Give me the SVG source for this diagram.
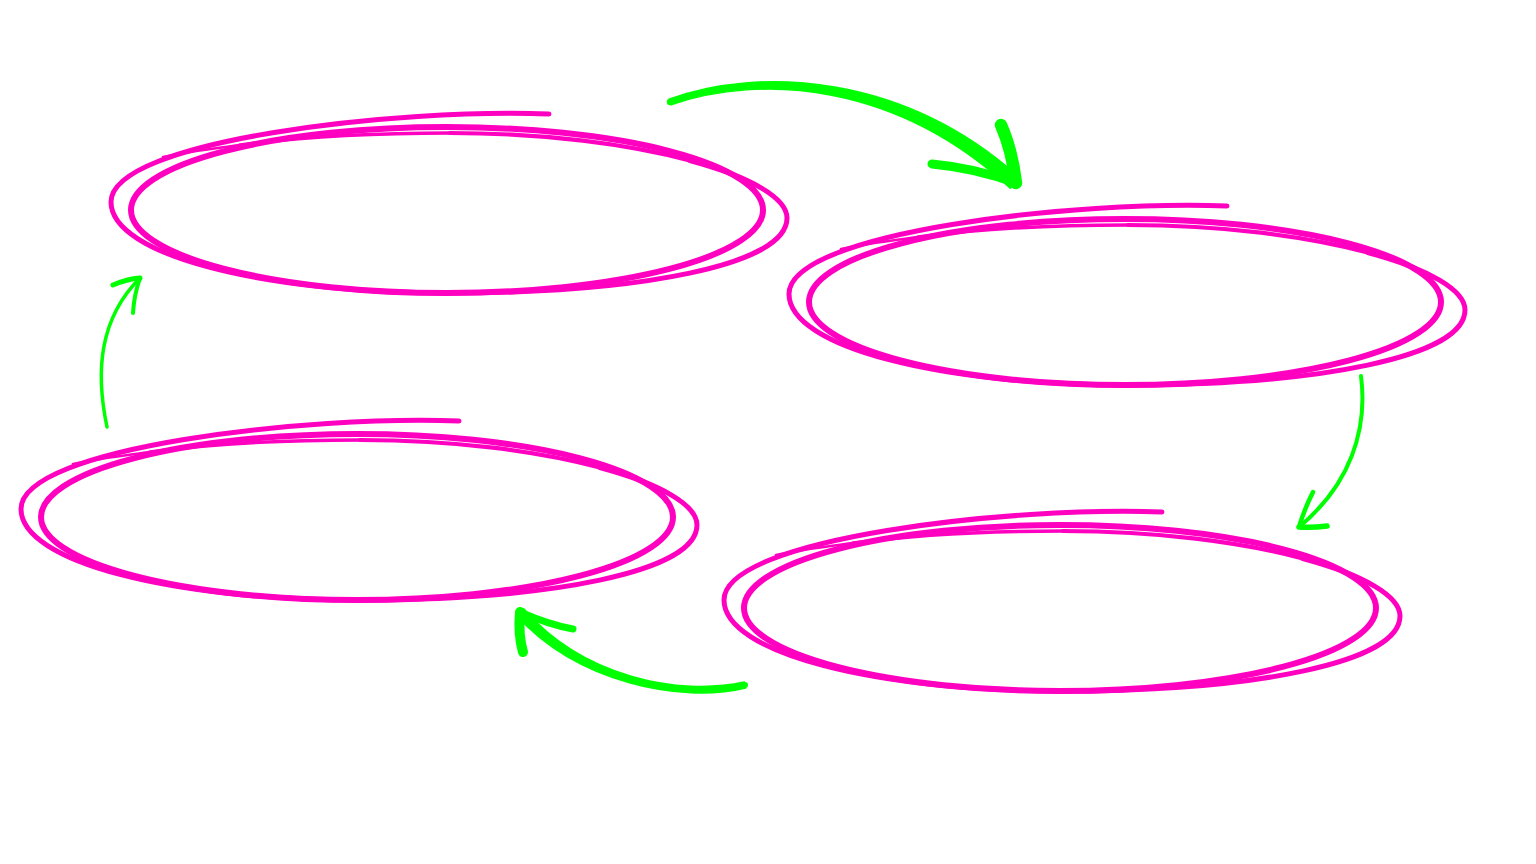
<svg xmlns="http://www.w3.org/2000/svg" xmlns:xlink="http://www.w3.org/1999/xlink" width="1536" height="864" viewBox="0 0 1536 864">
<style>
.loop{fill:none;stroke:#ff00c0;stroke-linecap:round;stroke-linejoin:round}
.arr{fill:none;stroke:#00ff00;stroke-linecap:round;stroke-linejoin:round}
.shaft{fill:#00ff00;stroke:#00ff00;stroke-width:1.5;stroke-linejoin:round}
</style>
<defs>
<g id="sketchEllipse">
<ellipse class="loop" cx="447" cy="210" rx="316" ry="83" stroke-width="6"/>
<path class="loop" stroke-width="5" d="M549,114 C400,108 111,140 111,202 C111,255 262,293 449,293 C640,293 787,265 787,218 C787,198 750.25,176.75 689.75,160.5"/>
<path class="loop" stroke-width="4.2" d="M689.75,160.5 C629.25,144.25 545,133 450,133"/>
<path class="loop" stroke-width="3.4" d="M450,133 C370,133 300,137 240,145"/>
<path class="loop" stroke-width="2.6" d="M240,145 C210,149 185,152 163,157"/>
</g>
</defs>
<rect width="1536" height="864" fill="#ffffff"/>
<g id="node1"><use xlink:href="#sketchEllipse"/></g>
<g id="node2"><use xlink:href="#sketchEllipse" transform="translate(678,92)"/></g>
<g id="node3"><use xlink:href="#sketchEllipse" transform="translate(-90,307)"/></g>
<g id="node4"><use xlink:href="#sketchEllipse" transform="translate(613,398)"/></g>
<g id="connectors">
<g id="arrow-top">
<path class="shaft" d="M669,99.2 C758.7,66.2 904,73.6 1019.7,177.8 L1010.3,188.2 C896,82.4 761.3,73.8 671,104.8 Z"/>
<circle cx="670" cy="102" r="3.2" fill="#00ff00"/>
<path class="arr" stroke-width="12.5" d="M1001,125 Q1012,150 1016,183"/>
<path class="arr" stroke-width="9" d="M932,164 Q975,168 1016,183"/>
</g>
<g id="arrow-right">
<path class="arr" stroke-width="4" d="M1361,376 C1368,430 1350,485 1299,527"/>
<path class="arr" stroke-width="4.5" d="M1313,492 Q1304,510 1299,527"/>
<path class="arr" stroke-width="5.5" d="M1327,526 Q1312,528 1299,527"/>
</g>
<g id="arrow-bottom">
<path class="shaft" d="M744.3,682.1 C679.1,696.1 583,677.4 523.75,608.7 L516.25,615.3 C577,682.6 680.9,703.9 745.7,687.9 Z"/>
<circle cx="745" cy="685" r="3" fill="#00ff00"/>
<path class="arr" stroke-width="10" d="M520,612 Q518,635 523,652"/>
<path class="arr" stroke-width="7" d="M520,612 Q550,625 573,629"/>
</g>
<g id="arrow-left">
<path class="arr" stroke-width="3.5" d="M107,427 C95,370 100,318 140,278"/>
<path class="arr" stroke-width="5" d="M113,285 Q127,279 140,278"/>
<path class="arr" stroke-width="4" d="M133,313 Q134,295 140,278"/>
</g>
</g>
</svg>
